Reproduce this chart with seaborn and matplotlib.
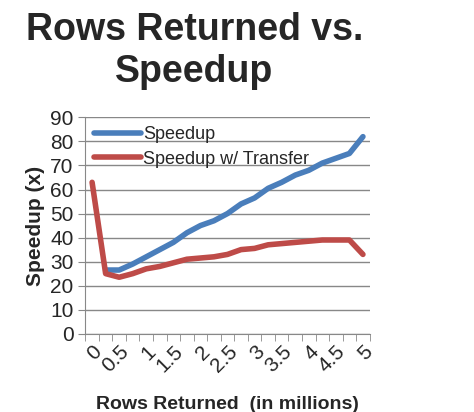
import numpy as np
import pandas as pd
import seaborn as sns
import matplotlib.pyplot as plt

sns.set_style("white")
plt.rcParams['font.family'] = ['Liberation Sans', 'DejaVu Sans']

rows = [0, 0.25, 0.5, 0.75, 1, 1.25, 1.5, 1.75, 2, 2.25, 2.5, 2.75, 3, 3.25, 3.5, 3.75, 4, 4.25, 4.5, 4.75, 5]
speedup = [np.nan, 26.5, 26.5, 29, 32, 35, 38, 42, 45, 47, 50, 54, 56.5, 60.5, 63, 66, 68, 71, 73, 75, 82]
speedup_transfer = [63, 25, 23.5, 25, 27, 28, 29.5, 31, 31.5, 32, 33, 35, 35.5, 37, 37.5, 38, 38.5, 39, 39, 39, 33]
tick_labels = ["0", "0.5", "1", "1.5", "2", "2.5", "3", "3.5", "4", "4.5", "5"]

df = pd.DataFrame({"idx": np.arange(len(rows)),
                   "Speedup": speedup,
                   "Speedup w/ Transfer": speedup_transfer})
df = df.melt(id_vars="idx", var_name="series", value_name="val")

fig = plt.figure(figsize=(4.74, 4.12), dpi=100)
ax = fig.add_axes([0.18, 0.19, 0.6, 0.525])
sns.lineplot(data=df, x="idx", y="val", hue="series",
             palette=["#4a7ebb", "#be4b48"], linewidth=4, ax=ax)

ax.set_xlim(-0.5, len(rows) - 0.5)
ax.set_ylim(0, 90)
ax.set_yticks(range(0, 91, 10))
ax.yaxis.grid(True, color="#888888", linewidth=1)
ax.set_xticks(np.arange(0, len(rows), 2))
ax.set_xticklabels(tick_labels, rotation=45, ha="right", rotation_mode="anchor", fontsize=15)
ax.set_xticks(np.arange(-0.5, len(rows), 1), minor=True)
ax.tick_params(axis="x", which="major", length=0, pad=6)
ax.tick_params(axis="x", which="minor", length=5, color="#888888", bottom=True)
ax.tick_params(axis="y", labelsize=15, length=5, left=True, color="#888888")
for s in ["top", "right"]:
    ax.spines[s].set_visible(False)
for s in ["left", "bottom"]:
    ax.spines[s].set_color("#888888")

ax.set_xlabel("Rows Returned  (in millions)", fontsize=14, fontweight="bold", labelpad=14)
ax.set_ylabel("Speedup (x)", fontsize=15, fontweight="bold")
ax.legend(title=None, loc="upper left", frameon=False, fontsize=13,
          handlelength=2.6, borderaxespad=0.1, labelspacing=0.4, handletextpad=0.1)
fig.suptitle("Rows Returned vs.\nSpeedup", fontsize=27, fontweight="bold", y=0.97, x=0.41)

fig.savefig("out.png")
